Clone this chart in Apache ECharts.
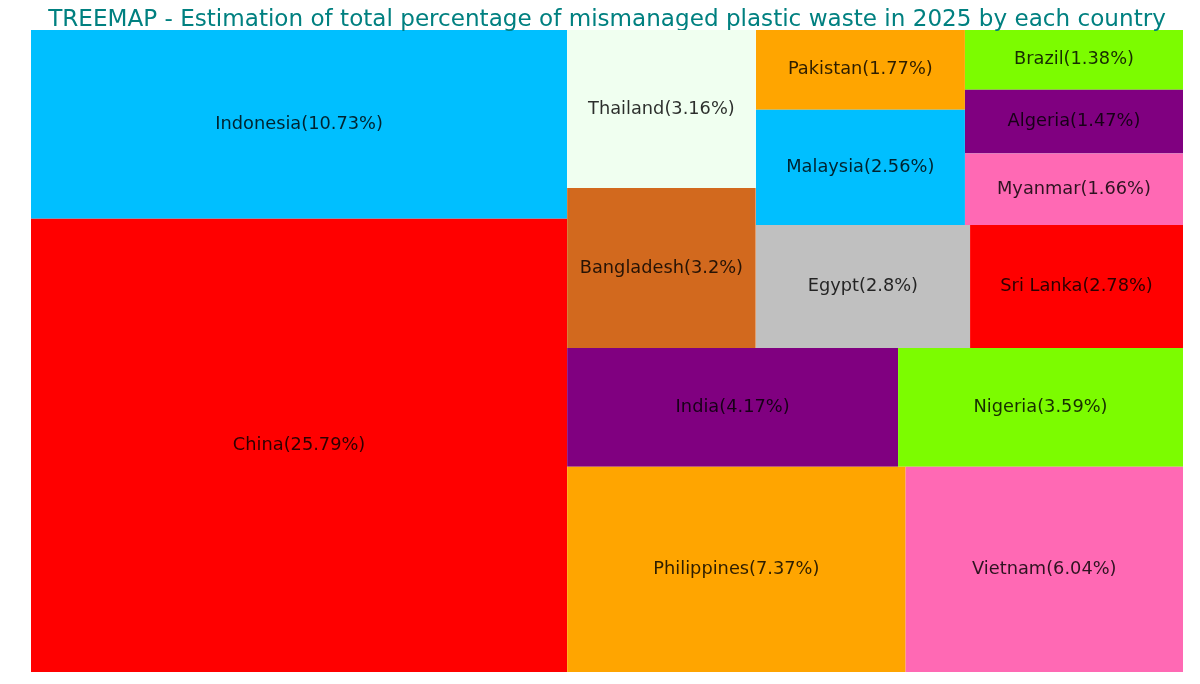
<!DOCTYPE html>
<html>
<head>
<meta charset="utf-8">
<script src="https://cdn.jsdelivr.net/npm/echarts/dist/echarts.min.js"></script>
<style>
  html, body { margin: 0; padding: 0; background: #ffffff; }
  #chart { width: 1200px; height: 684px; }
</style>
</head>
<body>
<div id="chart"></div>
<script>
// ---- data ----
const TITLE = 'TREEMAP - Estimation of total percentage of mismanaged plastic waste in 2025 by each country';
const countries = ['China', 'Indonesia', 'Philippines', 'Vietnam', 'India', 'Nigeria', 'Bangladesh', 'Thailand',
                   'Egypt', 'Sri Lanka', 'Malaysia', 'Pakistan', 'Myanmar', 'Algeria', 'Brazil'];
const shares = [25.79, 10.73, 7.37, 6.04, 4.17, 3.59, 3.2, 3.16, 2.8, 2.78, 2.56, 1.77, 1.66, 1.47, 1.38];
const colors = ['#FF0000', '#00BFFF', '#FFA500', '#FF69B4', '#800080', '#7CFC00', '#D2691E', '#F0FFF0',
                '#C0C0C0', '#FF0000', '#00BFFF', '#FFA500', '#FF69B4', '#800080', '#7CFC00'];

// ---- tree building (the grouping only steers the library's own squarify layout) ----
function leaf(name) {
  const i = countries.indexOf(name);
  return { name: name + '(' + shares[i] + '%)', value: shares[i], itemStyle: { color: colors[i] } };
}
function group(children) { return { name: '', children: children }; }
const TB_KEY = '__thailand_bangladesh__';
const tbValue = shares[countries.indexOf('Thailand')] + shares[countries.indexOf('Bangladesh')];

function buildTree() {
  return [
    leaf('Indonesia'),
    leaf('China'),
    group([
      { name: TB_KEY, value: tbValue, itemStyle: { color: '#ffffff' }, label: { show: false } },
      group([
        group([
          leaf('Pakistan'),
          leaf('Malaysia'),
          group([
            group([leaf('Brazil'), leaf('Algeria')]),
            leaf('Myanmar')
          ])
        ]),
        group([leaf('Egypt'), leaf('Sri Lanka')])
      ]),
      group([
        group([leaf('India'), leaf('Nigeria')]),
        group([leaf('Philippines'), leaf('Vietnam')])
      ])
    ])
  ];
}

const labelStyle = {
  show: true, position: 'inside', align: 'center', verticalAlign: 'middle',
  color: 'rgba(0,0,0,0.82)', fontSize: 17.8, fontFamily: 'DejaVu Sans',
  padding: 0, overflow: 'none', textBorderWidth: 0
};

function treemapSeries(id, data, ratio, box, z) {
  return Object.assign({
    type: 'treemap', id: id, z: z, squareRatio: ratio, sort: false, roam: false, nodeClick: false,
    animation: false, breadcrumb: { show: false }, label: labelStyle, upperLabel: { show: false },
    itemStyle: { borderWidth: 0, gapWidth: 0, borderColor: '#ffffff' },
    emphasis: { disabled: true }, silent: true, data: data
  }, box);
}

const chart = echarts.init(document.getElementById('chart'), null, { renderer: 'canvas' });
chart.setOption({
  animation: false,
  backgroundColor: '#ffffff',
  title: {
    text: TITLE, left: 602, top: 3, textAlign: 'center',
    textStyle: { color: '#008080', fontSize: 23.1, fontWeight: 'normal', fontFamily: 'DejaVu Sans' }
  },
  series: [treemapSeries('main', buildTree(), 2.05, { left: 31, top: 30, width: 1152, height: 642 }, 2)]
});

// Thailand / Bangladesh column: drawn by a second treemap placed on the cell the library computed for them
try {
  const sm = chart.getModel().getSeriesByIndex(0);
  const t = sm.getData().tree;
  let node = null;
  t.root.eachNode(function (n) { if (n.name === TB_KEY) node = n; });
  let x = sm.layoutInfo.x, y = sm.layoutInfo.y;
  for (let n = node; n; n = n.parentNode) { const l = n.getLayout(); x += l.x; y += l.y; }
  const own = node.getLayout();
  chart.setOption({
    series: [
      treemapSeries('tb', [leaf('Thailand'), leaf('Bangladesh')], 1,
        { left: x, top: y, width: own.width, height: own.height }, 10)
    ]
  });
} catch (e) {
  console.error(e);
}
</script>
</body>
</html>
